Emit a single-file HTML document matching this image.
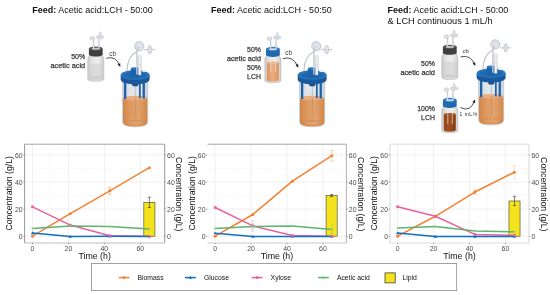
<!DOCTYPE html>
<html lang="en"><head><meta charset="utf-8"><title>Feed strategies</title>
<style>html,body{margin:0;padding:0;background:#fff;}svg{display:block;}text{font-family:"Liberation Sans", Arial, sans-serif;}.tk{font-size:6.9px;fill:#4d4d4d;}.at{font-size:8.8px;fill:#111;}.at2{font-size:8.7px;fill:#111;}.ti{font-size:9.4px;fill:#111;}.lb{font-size:6.6px;fill:#3c3c3c;stroke:#3c3c3c;stroke-width:0.25px;}.sm{font-size:6.3px;fill:#333;}.lg{font-size:6.8px;fill:#111;}</style></head><body>
<svg width="550" height="295" viewBox="0 0 550 295">
<defs><linearGradient id="glass" x1="0" x2="1" y1="0" y2="0"><stop offset="0" stop-color="#c3ccd5"/><stop offset="0.22" stop-color="#dce2e8"/><stop offset="0.6" stop-color="#e8ecf0"/><stop offset="1" stop-color="#c8d0d9"/></linearGradient><linearGradient id="liq" x1="0" x2="1" y1="0" y2="0"><stop offset="0" stop-color="#d38748"/><stop offset="0.3" stop-color="#de9a62"/><stop offset="0.65" stop-color="#e2a26d"/><stop offset="1" stop-color="#d38748"/></linearGradient><linearGradient id="bliq" x1="0" x2="1" y1="0" y2="0"><stop offset="0" stop-color="#dc9359"/><stop offset="0.45" stop-color="#e9ae84"/><stop offset="1" stop-color="#dd965d"/></linearGradient><linearGradient id="dliq" x1="0" x2="1" y1="0" y2="0"><stop offset="0" stop-color="#94461a"/><stop offset="0.45" stop-color="#a05020"/><stop offset="1" stop-color="#873b12"/></linearGradient><linearGradient id="bglass" x1="0" x2="1" y1="0" y2="0"><stop offset="0" stop-color="#cbcbcb"/><stop offset="0.3" stop-color="#e6e6e6"/><stop offset="0.65" stop-color="#ededed"/><stop offset="1" stop-color="#cfcfcf"/></linearGradient></defs>
<rect width="550" height="295" fill="#fff"/>
<text x="32.3" y="12.9" class="ti" textLength="120.5" lengthAdjust="spacingAndGlyphs"><tspan font-weight="bold">Feed:</tspan> Acetic acid:LCH - 50:00</text>
<text x="210.9" y="12.9" class="ti" textLength="120.8" lengthAdjust="spacingAndGlyphs"><tspan font-weight="bold">Feed:</tspan> Acetic acid:LCH - 50:50</text>
<text x="387.6" y="12.9" class="ti" textLength="120.6" lengthAdjust="spacingAndGlyphs"><tspan font-weight="bold">Feed:</tspan> Acetic acid:LCH - 50:00</text>
<text x="387.6" y="24.1" class="ti" textLength="105" lengthAdjust="spacingAndGlyphs">&amp; LCH continuous 1 mL/h</text>
<g><path d="M93.50 39.80V49.30M98.90 38.80V49.30" stroke="#c6c9ce" stroke-width="1.3" fill="none"/><ellipse cx="92.40" cy="38.30" rx="2.4" ry="1.8" fill="#dcdee2" stroke="#b9bcc2" stroke-width="0.5"/><ellipse cx="100.10" cy="37.10" rx="3.9" ry="1.7" fill="#dcdee2" stroke="#b9bcc2" stroke-width="0.5"/><rect x="99.20" y="32.00" width="1.9" height="5" rx="0.7" fill="#dfe1e5" stroke="#c0c3c8" stroke-width="0.4"/><path d="M90.00 54.80Q87.80 56.80 87.80 59.80V78.80Q87.80 81.30 95.80 81.30Q103.80 81.30 103.80 78.80V59.80Q103.80 56.80 101.60 54.80z" fill="url(#bglass)" stroke="#b2b2b2" stroke-width="0.6"/><path d="M88.70 63.80V78.50Q88.70 80.50 95.80 80.50Q102.90 80.50 102.90 78.50V63.80z" fill="#cdcdcd" opacity="0.55"/><ellipse cx="95.80" cy="77.70" rx="5.6" ry="1.6" fill="#c9c9c9" opacity="0.7"/><path d="M88.90 48.50V54.60A6.9 1.9 0 0 0 102.70 54.60V48.50z" fill="#3f3f41"/><ellipse cx="95.80" cy="48.50" rx="6.9" ry="2.1" fill="#5a5a5c"/><ellipse cx="95.80" cy="48.80" rx="3.9" ry="1.0" fill="#d9d9d9" opacity="0.8"/><path d="M93.50 43.30V48.90M98.90 43.30V48.90" stroke="#d3d6da" stroke-width="1.3" fill="none"/></g>
<g><path d="M126.90 71.00C127.20 60.50 130.40 54.80 136.50 51.80" stroke="#bcbfc5" stroke-width="1.1" fill="none"/><path d="M136.90 50.00V73.00" stroke="#c0c3c9" stroke-width="1.3" fill="none"/><rect x="138.20" y="55.70" width="3" height="18" rx="0.8" fill="#eef0f2" stroke="#bcc0c6" stroke-width="0.55"/><circle cx="139.30" cy="46.20" r="4.6" fill="#e1e4e9" stroke="#b8bcc3" stroke-width="0.8"/><circle cx="138.90" cy="46.00" r="2.3" fill="#eceef1" stroke="#c6c9cf" stroke-width="0.5"/><path d="M138.90 46.00L137.10 51.00" stroke="#b8bcc3" stroke-width="0.8"/><path d="M144.00 49.70H155.20" stroke="#bfc2c8" stroke-width="1.0"/><ellipse cx="149.70" cy="49.70" rx="1.9" ry="4.2" fill="#dfe2e7" stroke="#b8bcc3" stroke-width="0.7"/><path d="M122.50 77.00V121.90Q122.50 126.90 135.15 126.90Q147.80 126.90 147.80 121.90V77.00z" fill="url(#glass)" stroke="#bcc5ce" stroke-width="0.6"/><rect x="134.70" y="79.00" width="1.6" height="37" fill="#c3c9d0"/><path d="M123.00 98.00V121.90Q123.00 126.40 135.15 126.40Q147.30 126.40 147.30 121.90V98.00z" fill="url(#liq)"/><ellipse cx="135.15" cy="98.00" rx="12.15" ry="2.3" fill="#e8ae82"/><ellipse cx="135.15" cy="123.00" rx="10.6" ry="2.5" fill="none" stroke="#cb7f40" stroke-width="0.6" opacity="0.8"/><rect x="134.80" y="98.00" width="1.4" height="19" fill="#cf935f" opacity="0.8"/><rect x="139.30" y="98.00" width="1.2" height="15" fill="#d49a68" opacity="0.7"/><rect x="124.00" y="78.00" width="2.3" height="21.0" fill="#1f62a9"/><rect x="138.90" y="79.00" width="1.8" height="19" fill="#1f62a9"/><rect x="142.60" y="78.00" width="2.3" height="20.5" fill="#1f62a9"/><rect x="132.30" y="83.20" width="5.8" height="3.0" rx="1.0" fill="#174f8f"/><path d="M120.70 75.00V79.60A14.45 4.8 0 0 0 149.60 79.60V75.00z" fill="#1a579b"/><ellipse cx="135.15" cy="75.00" rx="14.45" ry="4.8" fill="#2976bd"/><ellipse cx="135.15" cy="75.30" rx="11.8" ry="3.4" fill="#2069b0"/><rect x="130.80" y="68.30" width="9.1" height="8.6" rx="1" fill="#1d61a8"/><ellipse cx="135.35" cy="68.50" rx="4.55" ry="1.3" fill="#2b78c0"/><rect x="142.50" y="69.60" width="3" height="2.3" rx="0.5" fill="#e9ecef"/><rect x="136.30" y="65.00" width="1.1" height="9.5" fill="#dfe2e6"/><rect x="138.40" y="65.00" width="2.6" height="10" fill="#eef0f2" stroke="#c6c9ce" stroke-width="0.4"/></g>
<text x="85.2" y="58.6" text-anchor="end" class="lb" style="font-size:7px">50%</text>
<text x="85.2" y="67.7" text-anchor="end" class="lb" style="font-size:7px" textLength="34.8" lengthAdjust="spacingAndGlyphs">acetic acid</text>
<text x="109.3" y="55.5" class="sm">cb</text>
<path d="M106.3 58.3Q115.8 55.2 119.9 66.0" stroke="#222" stroke-width="0.8" fill="none"/>
<path d="M1.0 0L-2.4 -1.45L-2.4 1.45z" transform="translate(119.9 66.0) rotate(66)" fill="#222"/>
<g><path d="M270.60 40.20V49.70M276.00 39.20V49.70" stroke="#c6c9ce" stroke-width="1.3" fill="none"/><ellipse cx="269.50" cy="38.70" rx="2.4" ry="1.8" fill="#dcdee2" stroke="#b9bcc2" stroke-width="0.5"/><ellipse cx="277.20" cy="37.50" rx="3.9" ry="1.7" fill="#dcdee2" stroke="#b9bcc2" stroke-width="0.5"/><rect x="276.30" y="32.40" width="1.9" height="5" rx="0.7" fill="#dfe1e5" stroke="#c0c3c8" stroke-width="0.4"/><path d="M267.10 55.20Q264.90 57.20 264.90 60.20V80.20Q264.90 82.70 272.90 82.70Q280.90 82.70 280.90 80.20V60.20Q280.90 57.20 278.70 55.20z" fill="url(#bglass)" stroke="#b2b2b2" stroke-width="0.6"/><path d="M266.90 62.60V79.50Q266.90 81.70 272.90 81.70Q278.90 81.70 278.90 79.50V62.60z" fill="url(#bliq)"/><ellipse cx="272.90" cy="62.60" rx="6.0" ry="1.2" fill="#edb892"/><path d="M270.90 59.60V72.60M275.40 59.60V72.60" stroke="#f1e3d8" stroke-width="0.9" opacity="0.75"/><path d="M266.00 48.90V55.00A6.9 1.9 0 0 0 279.80 55.00V48.90z" fill="#2268b0"/><ellipse cx="272.90" cy="48.90" rx="6.9" ry="2.1" fill="#2f7cc4"/><ellipse cx="272.90" cy="49.20" rx="3.9" ry="1.0" fill="#f2f5f8" opacity="0.8"/><path d="M270.60 43.70V49.30M276.00 43.70V49.30" stroke="#d3d6da" stroke-width="1.3" fill="none"/></g>
<g><path d="M303.90 71.00C304.20 60.50 307.40 54.80 313.50 51.80" stroke="#bcbfc5" stroke-width="1.1" fill="none"/><path d="M313.90 50.00V73.00" stroke="#c0c3c9" stroke-width="1.3" fill="none"/><rect x="315.20" y="55.70" width="3" height="18" rx="0.8" fill="#eef0f2" stroke="#bcc0c6" stroke-width="0.55"/><circle cx="316.30" cy="46.20" r="4.6" fill="#e1e4e9" stroke="#b8bcc3" stroke-width="0.8"/><circle cx="315.90" cy="46.00" r="2.3" fill="#eceef1" stroke="#c6c9cf" stroke-width="0.5"/><path d="M315.90 46.00L314.10 51.00" stroke="#b8bcc3" stroke-width="0.8"/><path d="M321.00 49.70H332.20" stroke="#bfc2c8" stroke-width="1.0"/><ellipse cx="326.70" cy="49.70" rx="1.9" ry="4.2" fill="#dfe2e7" stroke="#b8bcc3" stroke-width="0.7"/><path d="M299.50 77.00V121.90Q299.50 126.90 312.15 126.90Q324.80 126.90 324.80 121.90V77.00z" fill="url(#glass)" stroke="#bcc5ce" stroke-width="0.6"/><rect x="311.70" y="79.00" width="1.6" height="37" fill="#c3c9d0"/><path d="M300.00 98.00V121.90Q300.00 126.40 312.15 126.40Q324.30 126.40 324.30 121.90V98.00z" fill="url(#liq)"/><ellipse cx="312.15" cy="98.00" rx="12.15" ry="2.3" fill="#e8ae82"/><ellipse cx="312.15" cy="123.00" rx="10.6" ry="2.5" fill="none" stroke="#cb7f40" stroke-width="0.6" opacity="0.8"/><rect x="311.80" y="98.00" width="1.4" height="19" fill="#cf935f" opacity="0.8"/><rect x="316.30" y="98.00" width="1.2" height="15" fill="#d49a68" opacity="0.7"/><rect x="301.00" y="78.00" width="2.3" height="21.0" fill="#1f62a9"/><rect x="315.90" y="79.00" width="1.8" height="19" fill="#1f62a9"/><rect x="319.60" y="78.00" width="2.3" height="20.5" fill="#1f62a9"/><rect x="309.30" y="83.20" width="5.8" height="3.0" rx="1.0" fill="#174f8f"/><path d="M297.70 75.00V79.60A14.45 4.8 0 0 0 326.60 79.60V75.00z" fill="#1a579b"/><ellipse cx="312.15" cy="75.00" rx="14.45" ry="4.8" fill="#2976bd"/><ellipse cx="312.15" cy="75.30" rx="11.8" ry="3.4" fill="#2069b0"/><rect x="307.80" y="68.30" width="9.1" height="8.6" rx="1" fill="#1d61a8"/><ellipse cx="312.35" cy="68.50" rx="4.55" ry="1.3" fill="#2b78c0"/><rect x="319.50" y="69.60" width="3" height="2.3" rx="0.5" fill="#e9ecef"/><rect x="313.30" y="65.00" width="1.1" height="9.5" fill="#dfe2e6"/><rect x="315.40" y="65.00" width="2.6" height="10" fill="#eef0f2" stroke="#c6c9ce" stroke-width="0.4"/></g>
<text x="260.9" y="51.9" text-anchor="end" class="lb" style="font-size:6.9px">50%</text>
<text x="260.9" y="60.6" text-anchor="end" class="lb" style="font-size:6.9px" textLength="33.9" lengthAdjust="spacingAndGlyphs">acetic acid</text>
<text x="260.9" y="69.9" text-anchor="end" class="lb" style="font-size:6.9px">50%</text>
<text x="260.9" y="78.7" text-anchor="end" class="lb" style="font-size:6.9px">LCH</text>
<text x="285.3" y="55.2" class="sm" style="font-size:6.3px">cb</text>
<path d="M283.0 58.6Q293.5 55.5 297.8 66.8" stroke="#222" stroke-width="0.8" fill="none"/>
<path d="M1.0 0L-2.4 -1.45L-2.4 1.45z" transform="translate(297.8 66.8) rotate(66)" fill="#222"/>
<g><path d="M447.50 38.10V47.60M452.90 37.10V47.60" stroke="#c6c9ce" stroke-width="1.3" fill="none"/><ellipse cx="446.40" cy="36.60" rx="2.4" ry="1.8" fill="#dcdee2" stroke="#b9bcc2" stroke-width="0.5"/><ellipse cx="454.10" cy="35.40" rx="3.9" ry="1.7" fill="#dcdee2" stroke="#b9bcc2" stroke-width="0.5"/><rect x="453.20" y="30.30" width="1.9" height="5" rx="0.7" fill="#dfe1e5" stroke="#c0c3c8" stroke-width="0.4"/><path d="M444.00 53.10Q441.80 55.10 441.80 58.10V77.10Q441.80 79.60 449.80 79.60Q457.80 79.60 457.80 77.10V58.10Q457.80 55.10 455.60 53.10z" fill="url(#bglass)" stroke="#b2b2b2" stroke-width="0.6"/><path d="M442.70 62.10V76.80Q442.70 78.80 449.80 78.80Q456.90 78.80 456.90 76.80V62.10z" fill="#cdcdcd" opacity="0.55"/><ellipse cx="449.80" cy="76.00" rx="5.6" ry="1.6" fill="#c9c9c9" opacity="0.7"/><path d="M442.90 46.80V52.90A6.9 1.9 0 0 0 456.70 52.90V46.80z" fill="#3f3f41"/><ellipse cx="449.80" cy="46.80" rx="6.9" ry="2.1" fill="#5a5a5c"/><ellipse cx="449.80" cy="47.10" rx="3.9" ry="1.0" fill="#d9d9d9" opacity="0.8"/><path d="M447.50 41.60V47.20M452.90 41.60V47.20" stroke="#d3d6da" stroke-width="1.3" fill="none"/></g>
<g><path d="M447.50 91.20V100.70M452.90 90.20V100.70" stroke="#c6c9ce" stroke-width="1.3" fill="none"/><ellipse cx="446.40" cy="89.70" rx="2.4" ry="1.8" fill="#dcdee2" stroke="#b9bcc2" stroke-width="0.5"/><ellipse cx="454.10" cy="88.50" rx="3.9" ry="1.7" fill="#dcdee2" stroke="#b9bcc2" stroke-width="0.5"/><rect x="453.20" y="83.40" width="1.9" height="5" rx="0.7" fill="#dfe1e5" stroke="#c0c3c8" stroke-width="0.4"/><path d="M444.00 106.20Q441.80 108.20 441.80 111.20V130.20Q441.80 132.70 449.80 132.70Q457.80 132.70 457.80 130.20V111.20Q457.80 108.20 455.60 106.20z" fill="url(#bglass)" stroke="#b2b2b2" stroke-width="0.6"/><path d="M443.80 114.20V129.50Q443.80 131.70 449.80 131.70Q455.80 131.70 455.80 129.50V114.20z" fill="url(#dliq)"/><ellipse cx="449.80" cy="114.20" rx="6.0" ry="1.2" fill="#a8521f"/><path d="M447.80 111.20V124.20M452.30 111.20V124.20" stroke="#f1e3d8" stroke-width="0.9" opacity="0.75"/><path d="M442.90 99.90V106.00A6.9 1.9 0 0 0 456.70 106.00V99.90z" fill="#2268b0"/><ellipse cx="449.80" cy="99.90" rx="6.9" ry="2.1" fill="#2f7cc4"/><ellipse cx="449.80" cy="100.20" rx="3.9" ry="1.0" fill="#f2f5f8" opacity="0.8"/><path d="M447.50 94.70V100.30M452.90 94.70V100.30" stroke="#d3d6da" stroke-width="1.3" fill="none"/></g>
<g><path d="M482.90 69.20C483.20 58.70 486.40 53.00 492.50 50.00" stroke="#bcbfc5" stroke-width="1.1" fill="none"/><path d="M492.90 48.20V71.20" stroke="#c0c3c9" stroke-width="1.3" fill="none"/><rect x="494.20" y="53.90" width="3" height="18" rx="0.8" fill="#eef0f2" stroke="#bcc0c6" stroke-width="0.55"/><circle cx="495.30" cy="44.40" r="4.6" fill="#e1e4e9" stroke="#b8bcc3" stroke-width="0.8"/><circle cx="494.90" cy="44.20" r="2.3" fill="#eceef1" stroke="#c6c9cf" stroke-width="0.5"/><path d="M494.90 44.20L493.10 49.20" stroke="#b8bcc3" stroke-width="0.8"/><path d="M500.00 47.90H511.20" stroke="#bfc2c8" stroke-width="1.0"/><ellipse cx="505.70" cy="47.90" rx="1.9" ry="4.2" fill="#dfe2e7" stroke="#b8bcc3" stroke-width="0.7"/><path d="M478.50 75.20V120.10Q478.50 125.10 491.15 125.10Q503.80 125.10 503.80 120.10V75.20z" fill="url(#glass)" stroke="#bcc5ce" stroke-width="0.6"/><rect x="490.70" y="77.20" width="1.6" height="37" fill="#c3c9d0"/><path d="M479.00 96.20V120.10Q479.00 124.60 491.15 124.60Q503.30 124.60 503.30 120.10V96.20z" fill="url(#liq)"/><ellipse cx="491.15" cy="96.20" rx="12.15" ry="2.3" fill="#e8ae82"/><ellipse cx="491.15" cy="121.20" rx="10.6" ry="2.5" fill="none" stroke="#cb7f40" stroke-width="0.6" opacity="0.8"/><rect x="490.80" y="96.20" width="1.4" height="19" fill="#cf935f" opacity="0.8"/><rect x="495.30" y="96.20" width="1.2" height="15" fill="#d49a68" opacity="0.7"/><rect x="480.00" y="76.20" width="2.3" height="21.0" fill="#1f62a9"/><rect x="494.90" y="77.20" width="1.8" height="19" fill="#1f62a9"/><rect x="498.60" y="76.20" width="2.3" height="20.5" fill="#1f62a9"/><rect x="488.30" y="81.40" width="5.8" height="3.0" rx="1.0" fill="#174f8f"/><path d="M476.70 73.20V77.80A14.45 4.8 0 0 0 505.60 77.80V73.20z" fill="#1a579b"/><ellipse cx="491.15" cy="73.20" rx="14.45" ry="4.8" fill="#2976bd"/><ellipse cx="491.15" cy="73.50" rx="11.8" ry="3.4" fill="#2069b0"/><rect x="486.80" y="66.50" width="9.1" height="8.6" rx="1" fill="#1d61a8"/><ellipse cx="491.35" cy="66.70" rx="4.55" ry="1.3" fill="#2b78c0"/><rect x="498.50" y="67.80" width="3" height="2.3" rx="0.5" fill="#e9ecef"/><rect x="492.30" y="63.20" width="1.1" height="9.5" fill="#dfe2e6"/><rect x="494.40" y="63.20" width="2.6" height="10" fill="#eef0f2" stroke="#c6c9ce" stroke-width="0.4"/></g>
<text x="434.9" y="66.1" text-anchor="end" class="lb" style="font-size:6.9px">50%</text>
<text x="434.9" y="75.1" text-anchor="end" class="lb" style="font-size:6.9px" textLength="34.5" lengthAdjust="spacingAndGlyphs">acetic acid</text>
<text x="434.9" y="110.8" text-anchor="end" class="lb" style="font-size:6.9px">100%</text>
<text x="434.9" y="120.0" text-anchor="end" class="lb" style="font-size:6.9px">LCH</text>
<text x="462.6" y="52.7" class="sm" style="font-size:6.0px">cb</text>
<path d="M460.6 56.9Q470.8 54.2 474.9 65.0" stroke="#222" stroke-width="0.8" fill="none"/>
<path d="M1.0 0L-2.4 -1.45L-2.4 1.45z" transform="translate(474.9 65.0) rotate(66)" fill="#222"/>
<text x="459.5" y="115.9" class="sm" style="font-size:5.0px" textLength="17.8" lengthAdjust="spacing">1 mL/h</text>
<path d="M460.5 107.6Q470.6 112.6 474.7 100.4" stroke="#222" stroke-width="0.8" fill="none"/>
<path d="M1.0 0L-2.4 -1.45L-2.4 1.45z" transform="translate(474.7 100.4) rotate(-66)" fill="#222"/>
<g><line x1="50.47" x2="50.47" y1="144.2" y2="243.0" stroke="#f4f4f4" stroke-width="0.5"/><line x1="86.41" x2="86.41" y1="144.2" y2="243.0" stroke="#f4f4f4" stroke-width="0.5"/><line x1="122.35" x2="122.35" y1="144.2" y2="243.0" stroke="#f4f4f4" stroke-width="0.5"/><line x1="158.29" x2="158.29" y1="144.2" y2="243.0" stroke="#f4f4f4" stroke-width="0.5"/><line x1="24.6" x2="164.7" y1="222.65" y2="222.65" stroke="#f4f4f4" stroke-width="0.5"/><line x1="24.6" x2="164.7" y1="195.55" y2="195.55" stroke="#f4f4f4" stroke-width="0.5"/><line x1="24.6" x2="164.7" y1="168.45" y2="168.45" stroke="#f4f4f4" stroke-width="0.5"/><line x1="32.50" x2="32.50" y1="144.2" y2="243.0" stroke="#ebebeb" stroke-width="0.75"/><line x1="68.44" x2="68.44" y1="144.2" y2="243.0" stroke="#ebebeb" stroke-width="0.75"/><line x1="104.38" x2="104.38" y1="144.2" y2="243.0" stroke="#ebebeb" stroke-width="0.75"/><line x1="140.32" x2="140.32" y1="144.2" y2="243.0" stroke="#ebebeb" stroke-width="0.75"/><line x1="24.6" x2="164.7" y1="236.20" y2="236.20" stroke="#ebebeb" stroke-width="0.75"/><line x1="24.6" x2="164.7" y1="209.10" y2="209.10" stroke="#ebebeb" stroke-width="0.75"/><line x1="24.6" x2="164.7" y1="182.00" y2="182.00" stroke="#ebebeb" stroke-width="0.75"/><line x1="24.6" x2="164.7" y1="154.90" y2="154.90" stroke="#ebebeb" stroke-width="0.75"/><rect x="143.85" y="202.32" width="11.1" height="33.88" fill="#F4E21D" stroke="#222" stroke-width="0.5"/><path d="M149.40 197.18V207.47M147.80 197.18h3.2M147.80 207.47h3.2" stroke="#222" stroke-width="0.55" fill="none"/><path d="M109.77 187.28V194.33M107.97 187.28h3.6M107.97 194.33h3.6" stroke="#F58231" stroke-width="0.55" fill="none" opacity="0.8"/><path d="M32.50 236.20L70.24 213.71L109.77 190.81L149.31 167.64" stroke="#F58231" stroke-width="1.5" fill="none" stroke-linejoin="round"/><path d="M32.50 206.80L70.24 225.09L109.77 235.79L149.31 236.34" stroke="#E9609F" stroke-width="1.5" fill="none" stroke-linejoin="round"/><path d="M32.50 233.08L70.24 236.61L109.77 236.34L149.31 236.47" stroke="#0F6FC6" stroke-width="1.5" fill="none" stroke-linejoin="round"/><path d="M32.50 228.48L70.24 225.90L109.77 226.44L149.31 229.02" stroke="#5DB36B" stroke-width="1.5" fill="none" stroke-linejoin="round"/><circle cx="32.50" cy="236.20" r="1.5" fill="#F58231"/><circle cx="70.24" cy="213.71" r="1.5" fill="#F58231"/><circle cx="109.77" cy="190.81" r="1.5" fill="#F58231"/><circle cx="149.31" cy="167.64" r="1.5" fill="#F58231"/><path d="M32.50 231.28l1.7 2.9h-3.4z" fill="#0F6FC6"/><path d="M70.24 234.81l1.7 2.9h-3.4z" fill="#0F6FC6"/><path d="M109.77 234.54l1.7 2.9h-3.4z" fill="#0F6FC6"/><path d="M149.31 234.67l1.7 2.9h-3.4z" fill="#0F6FC6"/><rect x="31.20" y="205.50" width="2.6" height="2.6" fill="#E9609F"/><rect x="68.94" y="223.79" width="2.6" height="2.6" fill="#E9609F"/><rect x="108.47" y="234.49" width="2.6" height="2.6" fill="#E9609F"/><rect x="148.00" y="235.04" width="2.6" height="2.6" fill="#E9609F"/><path d="M31.00 228.48h3M32.50 226.98v3" stroke="#8fd09a" stroke-width="0.7"/><path d="M68.74 225.90h3M70.24 224.40v3" stroke="#8fd09a" stroke-width="0.7"/><path d="M108.27 226.44h3M109.77 224.94v3" stroke="#8fd09a" stroke-width="0.7"/><path d="M147.81 229.02h3M149.31 227.52v3" stroke="#8fd09a" stroke-width="0.7"/><line x1="24.6" x2="24.6" y1="144.2" y2="243.0" stroke="#8c8c8c" stroke-width="0.9"/><line x1="24.6" x2="164.7" y1="144.2" y2="144.2" stroke="#9a9a9a" stroke-width="0.9"/><line x1="164.7" x2="164.7" y1="144.2" y2="243.0" stroke="#8c8c8c" stroke-width="0.9"/><line x1="24.6" x2="164.7" y1="243.0" y2="243.0" stroke="#b5b5b5" stroke-width="0.9"/><line x1="23.30" x2="24.6" y1="236.20" y2="236.20" stroke="#555" stroke-width="0.5"/><line x1="164.7" x2="166.00" y1="236.20" y2="236.20" stroke="#555" stroke-width="0.5"/><text x="22.60" y="239.05" text-anchor="end" class="tk">0</text><text x="167.10" y="239.05" class="tk">0</text><line x1="23.30" x2="24.6" y1="209.10" y2="209.10" stroke="#555" stroke-width="0.5"/><line x1="164.7" x2="166.00" y1="209.10" y2="209.10" stroke="#555" stroke-width="0.5"/><text x="22.60" y="211.95" text-anchor="end" class="tk">20</text><text x="167.10" y="211.95" class="tk">20</text><line x1="23.30" x2="24.6" y1="182.00" y2="182.00" stroke="#555" stroke-width="0.5"/><line x1="164.7" x2="166.00" y1="182.00" y2="182.00" stroke="#555" stroke-width="0.5"/><text x="22.60" y="184.85" text-anchor="end" class="tk">40</text><text x="167.10" y="184.85" class="tk">40</text><line x1="23.30" x2="24.6" y1="154.90" y2="154.90" stroke="#555" stroke-width="0.5"/><line x1="164.7" x2="166.00" y1="154.90" y2="154.90" stroke="#555" stroke-width="0.5"/><text x="22.60" y="157.75" text-anchor="end" class="tk">60</text><text x="167.10" y="157.75" class="tk">60</text><line x1="32.50" x2="32.50" y1="243.0" y2="244.30" stroke="#555" stroke-width="0.5"/><text x="32.50" y="250.70" text-anchor="middle" class="tk">0</text><line x1="68.44" x2="68.44" y1="243.0" y2="244.30" stroke="#555" stroke-width="0.5"/><text x="68.44" y="250.70" text-anchor="middle" class="tk">20</text><line x1="104.38" x2="104.38" y1="243.0" y2="244.30" stroke="#555" stroke-width="0.5"/><text x="104.38" y="250.70" text-anchor="middle" class="tk">40</text><line x1="140.32" x2="140.32" y1="243.0" y2="244.30" stroke="#555" stroke-width="0.5"/><text x="140.32" y="250.70" text-anchor="middle" class="tk">60</text><text x="94.65" y="259.2" text-anchor="middle" class="at">Time (h)</text><text transform="translate(12.00 193.3) rotate(-90)" text-anchor="middle" class="at2">Concentration (g/L)</text><text transform="translate(176.30 194.3) rotate(90)" text-anchor="middle" class="at2">Concentration (g/L)</text></g>
<g><line x1="233.07" x2="233.07" y1="144.2" y2="243.0" stroke="#f4f4f4" stroke-width="0.5"/><line x1="269.01" x2="269.01" y1="144.2" y2="243.0" stroke="#f4f4f4" stroke-width="0.5"/><line x1="304.95" x2="304.95" y1="144.2" y2="243.0" stroke="#f4f4f4" stroke-width="0.5"/><line x1="340.89" x2="340.89" y1="144.2" y2="243.0" stroke="#f4f4f4" stroke-width="0.5"/><line x1="207.5" x2="346.4" y1="222.65" y2="222.65" stroke="#f4f4f4" stroke-width="0.5"/><line x1="207.5" x2="346.4" y1="195.55" y2="195.55" stroke="#f4f4f4" stroke-width="0.5"/><line x1="207.5" x2="346.4" y1="168.45" y2="168.45" stroke="#f4f4f4" stroke-width="0.5"/><line x1="215.10" x2="215.10" y1="144.2" y2="243.0" stroke="#ebebeb" stroke-width="0.75"/><line x1="251.04" x2="251.04" y1="144.2" y2="243.0" stroke="#ebebeb" stroke-width="0.75"/><line x1="286.98" x2="286.98" y1="144.2" y2="243.0" stroke="#ebebeb" stroke-width="0.75"/><line x1="322.92" x2="322.92" y1="144.2" y2="243.0" stroke="#ebebeb" stroke-width="0.75"/><line x1="207.5" x2="346.4" y1="236.20" y2="236.20" stroke="#ebebeb" stroke-width="0.75"/><line x1="207.5" x2="346.4" y1="209.10" y2="209.10" stroke="#ebebeb" stroke-width="0.75"/><line x1="207.5" x2="346.4" y1="182.00" y2="182.00" stroke="#ebebeb" stroke-width="0.75"/><line x1="207.5" x2="346.4" y1="154.90" y2="154.90" stroke="#ebebeb" stroke-width="0.75"/><rect x="326.05" y="195.55" width="11.1" height="40.65" fill="#F4E21D" stroke="#222" stroke-width="0.5"/><path d="M331.60 194.47V196.63M330.00 194.47h3.2M330.00 196.63h3.2" stroke="#222" stroke-width="0.55" fill="none"/><path d="M331.90 150.29V161.13M330.10 150.29h3.6M330.10 161.13h3.6" stroke="#F58231" stroke-width="0.55" fill="none" opacity="0.7"/><path d="M215.10 236.20L252.84 214.52L292.37 181.19L331.90 155.71" stroke="#F58231" stroke-width="1.5" fill="none" stroke-linejoin="round"/><path d="M252.84 220.48V231.32M251.04 220.48h3.6M251.04 231.32h3.6" stroke="#E9609F" stroke-width="0.55" fill="none" opacity="0.45"/><path d="M215.10 207.47L252.84 225.90L292.37 235.52L331.90 236.34" stroke="#E9609F" stroke-width="1.5" fill="none" stroke-linejoin="round"/><path d="M215.10 233.22L252.84 236.61L292.37 236.47L331.90 236.47" stroke="#0F6FC6" stroke-width="1.5" fill="none" stroke-linejoin="round"/><path d="M252.84 223.73V229.15M251.04 223.73h3.6M251.04 229.15h3.6" stroke="#5DB36B" stroke-width="0.55" fill="none" opacity="0.45"/><path d="M331.90 225.09V233.76M330.10 225.09h3.6M330.10 233.76h3.6" stroke="#5DB36B" stroke-width="0.55" fill="none" opacity="0.45"/><path d="M215.10 228.48L252.84 226.44L292.37 226.04L331.90 229.42" stroke="#5DB36B" stroke-width="1.5" fill="none" stroke-linejoin="round"/><circle cx="215.10" cy="236.20" r="1.5" fill="#F58231"/><circle cx="252.84" cy="214.52" r="1.5" fill="#F58231"/><circle cx="292.37" cy="181.19" r="1.5" fill="#F58231"/><circle cx="331.90" cy="155.71" r="1.5" fill="#F58231"/><path d="M215.10 231.42l1.7 2.9h-3.4z" fill="#0F6FC6"/><path d="M252.84 234.81l1.7 2.9h-3.4z" fill="#0F6FC6"/><path d="M292.37 234.67l1.7 2.9h-3.4z" fill="#0F6FC6"/><path d="M331.90 234.67l1.7 2.9h-3.4z" fill="#0F6FC6"/><rect x="213.80" y="206.17" width="2.6" height="2.6" fill="#E9609F"/><rect x="251.54" y="224.60" width="2.6" height="2.6" fill="#E9609F"/><rect x="291.07" y="234.22" width="2.6" height="2.6" fill="#E9609F"/><rect x="330.60" y="235.04" width="2.6" height="2.6" fill="#E9609F"/><path d="M213.60 228.48h3M215.10 226.98v3" stroke="#8fd09a" stroke-width="0.7"/><path d="M251.34 226.44h3M252.84 224.94v3" stroke="#8fd09a" stroke-width="0.7"/><path d="M290.87 226.04h3M292.37 224.54v3" stroke="#8fd09a" stroke-width="0.7"/><path d="M330.40 229.42h3M331.90 227.92v3" stroke="#8fd09a" stroke-width="0.7"/><line x1="207.5" x2="207.5" y1="144.2" y2="243.0" stroke="#ffffff" stroke-width="0.9"/><line x1="207.5" x2="346.4" y1="144.2" y2="144.2" stroke="#9a9a9a" stroke-width="0.9"/><line x1="346.4" x2="346.4" y1="144.2" y2="243.0" stroke="#a8a8a8" stroke-width="0.9"/><line x1="207.5" x2="346.4" y1="243.0" y2="243.0" stroke="#c4c4c4" stroke-width="0.9"/><line x1="206.20" x2="207.5" y1="236.20" y2="236.20" stroke="#555" stroke-width="0.5"/><line x1="346.4" x2="347.70" y1="236.20" y2="236.20" stroke="#555" stroke-width="0.5"/><text x="205.50" y="239.05" text-anchor="end" class="tk">0</text><text x="348.80" y="239.05" class="tk">0</text><line x1="206.20" x2="207.5" y1="209.10" y2="209.10" stroke="#555" stroke-width="0.5"/><line x1="346.4" x2="347.70" y1="209.10" y2="209.10" stroke="#555" stroke-width="0.5"/><text x="205.50" y="211.95" text-anchor="end" class="tk">20</text><text x="348.80" y="211.95" class="tk">20</text><line x1="206.20" x2="207.5" y1="182.00" y2="182.00" stroke="#555" stroke-width="0.5"/><line x1="346.4" x2="347.70" y1="182.00" y2="182.00" stroke="#555" stroke-width="0.5"/><text x="205.50" y="184.85" text-anchor="end" class="tk">40</text><text x="348.80" y="184.85" class="tk">40</text><line x1="206.20" x2="207.5" y1="154.90" y2="154.90" stroke="#555" stroke-width="0.5"/><line x1="346.4" x2="347.70" y1="154.90" y2="154.90" stroke="#555" stroke-width="0.5"/><text x="205.50" y="157.75" text-anchor="end" class="tk">60</text><text x="348.80" y="157.75" class="tk">60</text><line x1="215.10" x2="215.10" y1="243.0" y2="244.30" stroke="#555" stroke-width="0.5"/><text x="215.10" y="250.70" text-anchor="middle" class="tk">0</text><line x1="251.04" x2="251.04" y1="243.0" y2="244.30" stroke="#555" stroke-width="0.5"/><text x="251.04" y="250.70" text-anchor="middle" class="tk">20</text><line x1="286.98" x2="286.98" y1="243.0" y2="244.30" stroke="#555" stroke-width="0.5"/><text x="286.98" y="250.70" text-anchor="middle" class="tk">40</text><line x1="322.92" x2="322.92" y1="243.0" y2="244.30" stroke="#555" stroke-width="0.5"/><text x="322.92" y="250.70" text-anchor="middle" class="tk">60</text><text x="276.95" y="259.2" text-anchor="middle" class="at">Time (h)</text><text transform="translate(194.90 193.3) rotate(-90)" text-anchor="middle" class="at2">Concentration (g/L)</text><text transform="translate(358.00 194.3) rotate(90)" text-anchor="middle" class="at2">Concentration (g/L)</text></g>
<g><line x1="415.57" x2="415.57" y1="144.2" y2="243.0" stroke="#f4f4f4" stroke-width="0.5"/><line x1="451.51" x2="451.51" y1="144.2" y2="243.0" stroke="#f4f4f4" stroke-width="0.5"/><line x1="487.45" x2="487.45" y1="144.2" y2="243.0" stroke="#f4f4f4" stroke-width="0.5"/><line x1="523.39" x2="523.39" y1="144.2" y2="243.0" stroke="#f4f4f4" stroke-width="0.5"/><line x1="390.0" x2="529.0" y1="222.65" y2="222.65" stroke="#f4f4f4" stroke-width="0.5"/><line x1="390.0" x2="529.0" y1="195.55" y2="195.55" stroke="#f4f4f4" stroke-width="0.5"/><line x1="390.0" x2="529.0" y1="168.45" y2="168.45" stroke="#f4f4f4" stroke-width="0.5"/><line x1="397.60" x2="397.60" y1="144.2" y2="243.0" stroke="#ebebeb" stroke-width="0.75"/><line x1="433.54" x2="433.54" y1="144.2" y2="243.0" stroke="#ebebeb" stroke-width="0.75"/><line x1="469.48" x2="469.48" y1="144.2" y2="243.0" stroke="#ebebeb" stroke-width="0.75"/><line x1="505.42" x2="505.42" y1="144.2" y2="243.0" stroke="#ebebeb" stroke-width="0.75"/><line x1="390.0" x2="529.0" y1="236.20" y2="236.20" stroke="#ebebeb" stroke-width="0.75"/><line x1="390.0" x2="529.0" y1="209.10" y2="209.10" stroke="#ebebeb" stroke-width="0.75"/><line x1="390.0" x2="529.0" y1="182.00" y2="182.00" stroke="#ebebeb" stroke-width="0.75"/><line x1="390.0" x2="529.0" y1="154.90" y2="154.90" stroke="#ebebeb" stroke-width="0.75"/><rect x="508.95" y="200.97" width="11.1" height="35.23" fill="#F4E21D" stroke="#222" stroke-width="0.5"/><path d="M514.50 196.36V205.58M512.90 196.36h3.2M512.90 205.58h3.2" stroke="#222" stroke-width="0.55" fill="none"/><path d="M474.87 189.86V194.19M473.07 189.86h3.6M473.07 194.19h3.6" stroke="#F58231" stroke-width="0.55" fill="none" opacity="0.7"/><path d="M514.40 165.60V178.88M512.61 165.60h3.6M512.61 178.88h3.6" stroke="#F58231" stroke-width="0.55" fill="none" opacity="0.4"/><path d="M397.60 236.20L435.34 216.28L474.87 192.03L514.40 172.24" stroke="#F58231" stroke-width="1.5" fill="none" stroke-linejoin="round"/><path d="M397.60 206.80L435.34 216.28L474.87 234.44L514.40 235.39" stroke="#E9609F" stroke-width="1.5" fill="none" stroke-linejoin="round"/><path d="M397.60 233.08L435.34 236.61L474.87 236.61L514.40 236.61" stroke="#0F6FC6" stroke-width="1.5" fill="none" stroke-linejoin="round"/><path d="M474.87 223.46V238.64M473.07 223.46h3.6M473.07 238.64h3.6" stroke="#5DB36B" stroke-width="0.55" fill="none" opacity="0.13"/><path d="M397.60 228.07L435.34 226.44L474.87 231.05L514.40 231.86" stroke="#5DB36B" stroke-width="1.5" fill="none" stroke-linejoin="round"/><circle cx="397.60" cy="236.20" r="1.5" fill="#F58231"/><circle cx="435.34" cy="216.28" r="1.5" fill="#F58231"/><circle cx="474.87" cy="192.03" r="1.5" fill="#F58231"/><circle cx="514.40" cy="172.24" r="1.5" fill="#F58231"/><path d="M397.60 231.28l1.7 2.9h-3.4z" fill="#0F6FC6"/><path d="M435.34 234.81l1.7 2.9h-3.4z" fill="#0F6FC6"/><path d="M474.87 234.81l1.7 2.9h-3.4z" fill="#0F6FC6"/><path d="M514.40 234.81l1.7 2.9h-3.4z" fill="#0F6FC6"/><rect x="396.30" y="205.50" width="2.6" height="2.6" fill="#E9609F"/><rect x="434.04" y="214.98" width="2.6" height="2.6" fill="#E9609F"/><rect x="473.57" y="233.14" width="2.6" height="2.6" fill="#E9609F"/><rect x="513.11" y="234.09" width="2.6" height="2.6" fill="#E9609F"/><path d="M396.10 228.07h3M397.60 226.57v3" stroke="#8fd09a" stroke-width="0.7"/><path d="M433.84 226.44h3M435.34 224.94v3" stroke="#8fd09a" stroke-width="0.7"/><path d="M473.37 231.05h3M474.87 229.55v3" stroke="#8fd09a" stroke-width="0.7"/><path d="M512.90 231.86h3M514.40 230.36v3" stroke="#8fd09a" stroke-width="0.7"/><line x1="390.0" x2="390.0" y1="144.2" y2="243.0" stroke="#d2d2d2" stroke-width="0.9"/><line x1="390.0" x2="529.0" y1="144.2" y2="144.2" stroke="#d8d8d8" stroke-width="0.9"/><line x1="529.0" x2="529.0" y1="144.2" y2="243.0" stroke="#d2d2d2" stroke-width="0.9"/><line x1="390.0" x2="529.0" y1="243.0" y2="243.0" stroke="#dadada" stroke-width="0.9"/><line x1="388.70" x2="390.0" y1="236.20" y2="236.20" stroke="#555" stroke-width="0.5"/><line x1="529.0" x2="530.30" y1="236.20" y2="236.20" stroke="#555" stroke-width="0.5"/><text x="388.00" y="239.05" text-anchor="end" class="tk">0</text><text x="531.40" y="239.05" class="tk">0</text><line x1="388.70" x2="390.0" y1="209.10" y2="209.10" stroke="#555" stroke-width="0.5"/><line x1="529.0" x2="530.30" y1="209.10" y2="209.10" stroke="#555" stroke-width="0.5"/><text x="388.00" y="211.95" text-anchor="end" class="tk">20</text><text x="531.40" y="211.95" class="tk">20</text><line x1="388.70" x2="390.0" y1="182.00" y2="182.00" stroke="#555" stroke-width="0.5"/><line x1="529.0" x2="530.30" y1="182.00" y2="182.00" stroke="#555" stroke-width="0.5"/><text x="388.00" y="184.85" text-anchor="end" class="tk">40</text><text x="531.40" y="184.85" class="tk">40</text><line x1="388.70" x2="390.0" y1="154.90" y2="154.90" stroke="#555" stroke-width="0.5"/><line x1="529.0" x2="530.30" y1="154.90" y2="154.90" stroke="#555" stroke-width="0.5"/><text x="388.00" y="157.75" text-anchor="end" class="tk">60</text><text x="531.40" y="157.75" class="tk">60</text><line x1="397.60" x2="397.60" y1="243.0" y2="244.30" stroke="#555" stroke-width="0.5"/><text x="397.60" y="250.70" text-anchor="middle" class="tk">0</text><line x1="433.54" x2="433.54" y1="243.0" y2="244.30" stroke="#555" stroke-width="0.5"/><text x="433.54" y="250.70" text-anchor="middle" class="tk">20</text><line x1="469.48" x2="469.48" y1="243.0" y2="244.30" stroke="#555" stroke-width="0.5"/><text x="469.48" y="250.70" text-anchor="middle" class="tk">40</text><line x1="505.42" x2="505.42" y1="243.0" y2="244.30" stroke="#555" stroke-width="0.5"/><text x="505.42" y="250.70" text-anchor="middle" class="tk">60</text><text x="459.50" y="259.2" text-anchor="middle" class="at">Time (h)</text><text transform="translate(377.40 193.3) rotate(-90)" text-anchor="middle" class="at2">Concentration (g/L)</text><text transform="translate(540.60 194.3) rotate(90)" text-anchor="middle" class="at2">Concentration (g/L)</text></g>
<rect x="91.5" y="263.6" width="365.2" height="27" fill="#fff" stroke="#8a8a8a" stroke-width="0.8"/>
<line x1="118.7" x2="129.5" y1="277.6" y2="277.6" stroke="#F58231" stroke-width="1.5"/>
<circle cx="124.1" cy="277.6" r="1.5" fill="#F58231"/>
<text x="137.5" y="279.9" class="lg">Biomass</text>
<line x1="185.0" x2="195.8" y1="277.6" y2="277.6" stroke="#0F6FC6" stroke-width="1.5"/>
<path d="M190.4 275.8l1.7 2.9h-3.4z" fill="#0F6FC6"/>
<text x="204.0" y="279.9" class="lg">Glucose</text>
<line x1="251.6" x2="262.5" y1="277.6" y2="277.6" stroke="#E9609F" stroke-width="1.5"/>
<rect x="255.75" y="276.3" width="2.6" height="2.6" fill="#E9609F"/>
<text x="270.6" y="279.9" class="lg">Xylose</text>
<line x1="318.0" x2="328.8" y1="277.6" y2="277.6" stroke="#5DB36B" stroke-width="1.5"/>
<path d="M322.09999999999997 277.6h2.6M323.4 276.3v2.6" stroke="#5DB36B" stroke-width="0.6"/>
<text x="336.9" y="279.9" class="lg">Acetic acid</text>
<rect x="385.0" y="272.9" width="10.2" height="10.0" fill="#F4E21D" stroke="#2a2a2a" stroke-width="0.7"/>
<text x="402.5" y="279.9" class="lg">Lipid</text>
</svg></body></html>
